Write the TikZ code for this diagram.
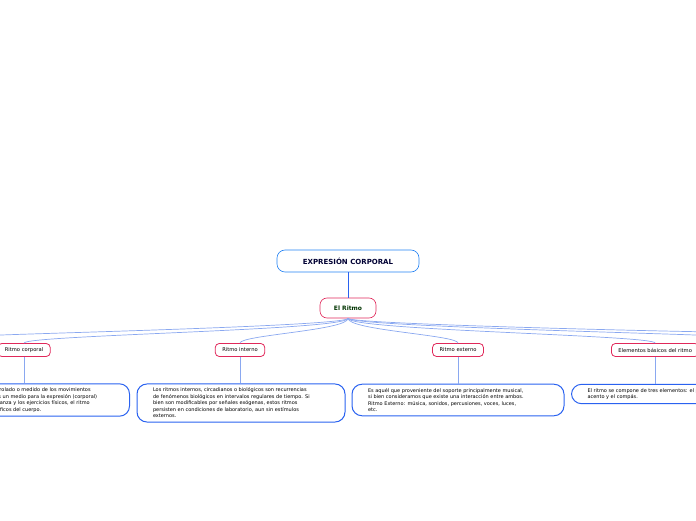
\documentclass[tikz,border=0pt]{standalone}
\usepackage{fontspec}
\setmainfont{DejaVu Sans}
\definecolor{bl}{HTML}{2A62F0}
\definecolor{lb}{HTML}{8AA8F0}
\definecolor{rd}{HTML}{E0285A}
\tikzset{
 root/.style={draw=bl!80!cyan,line width=0.6pt,rounded corners=8pt,minimum width=142pt,minimum height=22pt,font=\fontsize{7}{8}\selectfont\bfseries,text=blue!20!black},
 mid/.style={draw=rd,line width=0.6pt,rounded corners=7pt,minimum width=56pt,minimum height=20pt,font=\fontsize{6}{7}\selectfont\bfseries,text=green!20!black},
 sub/.style={draw=rd,line width=0.8pt,rounded corners=4pt,minimum height=13pt,inner xsep=7pt,font=\fontsize{5.2}{6}\selectfont},
 txt/.style={draw=bl,line width=1pt,rounded corners=10pt,align=flush left,inner xsep=16pt,inner ysep=4pt,font=\fontsize{5}{6.5}\selectfont},
 ln/.style={lb,line width=0.7pt},
}
\begin{document}
\begin{tikzpicture}[x=1pt,y=1pt]
\useasboundingbox (0,0) rectangle (696,520);
\node[root] (a) at (348,259) {EXPRESIÓN CORPORAL};
\node[mid] (b) at (348,212) {El Ritmo};
\node[sub] (c1) at (24,170) {Ritmo corporal};
\node[sub] (c2) at (240,170) {Ritmo interno};
\node[sub] (c3) at (458,170) {Ritmo externo};
\node[sub,anchor=west] (c4) at (611,170) {Elementos básicos del ritmo};
\node[txt,text width=146pt,anchor=east] (t1) at (130,120) {El ritmo controlado o medido de los movimientos\\corporales es un medio para la expresión (corporal)\\como en la danza y los ejercicios físicos, el ritmo\\de los específicos del cuerpo.};
\node[txt,text width=176pt] (t2) at (241,117) {Los ritmos internos, circadianos o biológicos son recurrencias\\de fenómenos biológicos en intervalos regulares de tiempo. Si\\bien son modificables por señales exógenas, estos ritmos\\persisten en condiciones de laboratorio, aun sin estímulos\\externos.};
\node[txt,text width=180pt] (t3) at (458,120) {Es aquél que proveniente del soporte principalmente musical,\\si bien consideramos que existe una interacción entre ambos.\\Ritmo Externo: música, sonidos, percusiones, voces, luces,\\etc.};
\node[txt,text width=160pt,anchor=west] (t4) at (571,126) {El ritmo se compone de tres elementos: el pulso, el\\acento y el compás.};
\coordinate (oL) at (-20,184);
\coordinate (oR) at (716,184);
\coordinate (oR2) at (716,188);
\draw[bl,line width=1pt] (a) -- (b);
\foreach \n in {c1,c2,c3,c4} \draw[ln] (b.south) .. controls +(0,-12) and +(0,8) .. (\n.north);
\draw[ln] (b.south) .. controls +(0,-8) and +(20,2) .. (oL);
\draw[ln] (b.south) .. controls +(0,-8) and +(-20,2) .. (oR);
\draw[ln] (b.south) .. controls +(0,-6) and +(-20,0) .. (oR2);
\foreach \i in {1,2,3,4} \draw[ln] (c\i.south) -- (c\i.south |- t\i.north);
\end{tikzpicture}
\end{document}
